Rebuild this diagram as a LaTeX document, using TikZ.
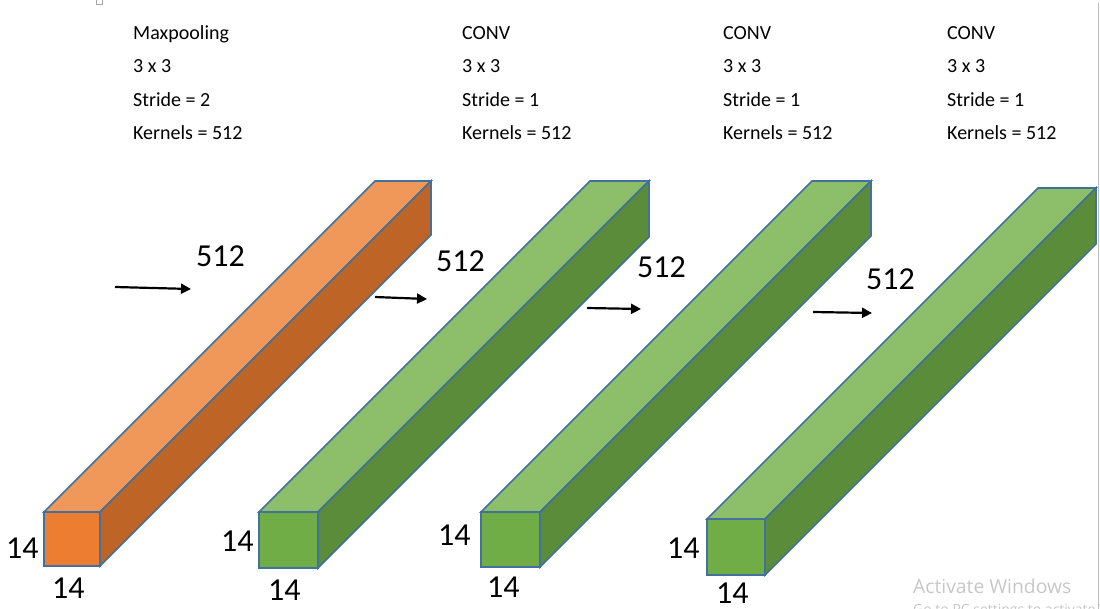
\documentclass[tikz,border=0pt]{standalone}
\usepackage{fontspec}
\setmainfont{Carlito}
\newfontfamily\winfont{Open Sans}
\usepackage{tikz}
\usetikzlibrary{
  arrows.meta
}
\definecolor{pool-front}{HTML}{ED7D31}
\definecolor{pool-top}{HTML}{F0975A}
\definecolor{pool-side}{HTML}{BF6427}
\definecolor{conv-front}{HTML}{70AD47}
\definecolor{conv-top}{HTML}{8DBE6A}
\definecolor{conv-side}{HTML}{5B8C39}
\definecolor{face-edge}{HTML}{41719C}
\tikzset{
  layer face/.style={
    draw=face-edge,
    line width=1.6pt,
    line join=miter
  },
  layer info/.style={
    anchor=base west,
    inner sep=0pt,
    font=\fontsize{20}{24}\selectfont
  },
  dim label/.style={
    anchor=base west,
    inner sep=0pt,
    font=\fontsize{32}{36}\selectfont
  },
  flow arrow/.style={
    line width=2.2pt,
    -{Triangle[length=10pt,width=10pt]}
  }
}

\begin{document}
\begin{tikzpicture}[x=1pt,y=-1pt]

    \useasboundingbox (0,0) rectangle (1100,609);
    \clip (0,0) rectangle (1100,609);

    % ---------- layer settings ----------
    \foreach \col/\xpos/\head/\stride in {
      pool/133/Maxpooling/2,
      convA/462/CONV/1,
      convB/723/CONV/1,
      convC/947/CONV/1}{
      \node[layer info] (\col-head)    at (\xpos,40)  {\head};
      \node[layer info] (\col-size)    at (\xpos,73)  {3 x 3};
      \node[layer info] (\col-stride)  at (\xpos,107) {Stride = \stride};
      \node[layer info] (\col-kernels) at (\xpos,140) {Kernels = 512};
    }

    % ---------- feature maps 14 x 14 x 512 ----------
    % front face corner, width, height, colour
    \foreach \name/\x/\y/\w/\h/\kind in {
      pool/44/512/56/54/pool,
      convA/259/512/59/56/conv,
      convB/481/512/59/55/conv,
      convC/707/519/58/56/conv}{
      % top face
      \path[layer face, fill=\kind-top]
        (\x,\y) -- (\x+\w,\y)
        -- (\x+\w+331,\y-331) -- (\x+331,\y-331)
        -- cycle;
      % side face
      \path[layer face, fill=\kind-side]
        (\x+\w,\y) -- (\x+\w+331,\y-331)
        -- (\x+\w+331,\y+\h-331) -- (\x+\w,\y+\h)
        -- cycle;
      % front face
      \path[layer face, fill=\kind-front]
        (\x,\y) rectangle (\x+\w,\y+\h);
      \coordinate (\name-front) at (\x,\y);
    }

    % ---------- sizes ----------
    \foreach \name/\dx/\dy/\lx/\ly/\bx/\by in {
      pool/196/267/6/558/52/598,
      convA/436/272/221/551/268/600,
      convB/637/278/438/545/487/597,
      convC/866/290/667/558/716/603}{
      \node[dim label] (\name-depth)  at (\dx,\dy) {512};
      \node[dim label] (\name-height) at (\lx,\ly) {14};
      \node[dim label] (\name-width)  at (\bx,\by) {14};
    }

    % ---------- flow arrows ----------
    \foreach \name/\xa/\ya/\xb/\yb in {
      inA/115/287/191/289,
      inB/375/297/427/299,
      inC/587/308/641/309,
      inD/813/312/872/313}{
      \coordinate (\name-start) at (\xa,\ya);
      \coordinate (\name-end)   at (\xb,\yb);
      \draw[flow arrow] (\name-start) -- (\name-end);
    }

    % ---------- screen leftovers ----------
    \draw[black!35, line width=0.6pt] (96.5,-2) rectangle (102.5,4.5);
    \draw[black!25, line width=1pt] (1098,3) -- (1098,612);
    \node[anchor=base west, inner sep=0pt, text=black!22,
      font=\winfont\fontsize{19.3}{23}\selectfont] (win-a) at (913,593)
      {Activate Windows};
    \node[anchor=base west, inner sep=0pt, text=black!22,
      font=\winfont\fontsize{14}{16}\selectfont] (win-b) at (913,614)
      {Go to PC settings to activate Windows.};

  \end{tikzpicture}
\end{document}
